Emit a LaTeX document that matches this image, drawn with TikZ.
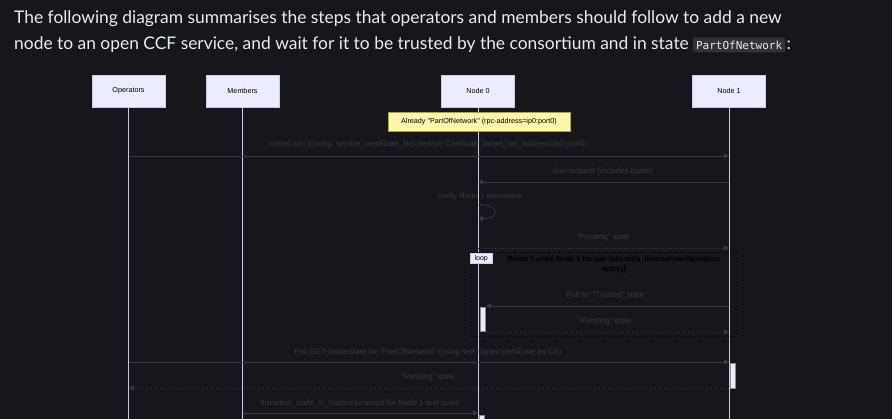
\documentclass[tikz,border=0pt]{standalone}
\usepackage{fontspec}
\setmainfont{Lato}
\newfontfamily\msgfont{Liberation Sans}
\newfontfamily\codefont{DejaVu Sans Mono}
\usetikzlibrary{arrows.meta}
\definecolor{bg}{HTML}{15171A}
\definecolor{hdr}{HTML}{E6EDF3}
\definecolor{actor}{HTML}{ECECFF}
\definecolor{actorb}{HTML}{9370DB}
\definecolor{life}{HTML}{C8C8E6}
\definecolor{msg}{HTML}{3A3A3A}
\definecolor{notef}{HTML}{FFF5AD}
\definecolor{noteb}{HTML}{AAAA33}
\tikzset{
 actorbox/.style={draw=actorb!40,fill=actor,minimum width=73pt,minimum height=32pt,font=\msgfont\fontsize{7.2}{8}\selectfont,text=black,inner sep=0pt},
 lifeline/.style={draw=life,line width=0.8pt},
 msgline/.style={draw=msg,line width=0.8pt,-{Triangle[length=5pt,width=5pt]}},
 retline/.style={msgline,dotted},
 lbl/.style={font=\msgfont\fontsize{7.8}{9}\selectfont,text=msg,inner sep=0pt},
 actbar/.style={draw=msg!60,fill=actor,line width=0.6pt},
 hdrtext/.style={anchor=west,text=hdr,font=\fontsize{17.4}{20}\selectfont,inner sep=0pt}
}
\begin{document}
\begin{tikzpicture}[x=1pt,y=-1pt]
\fill[bg] (0,0) rectangle (892,419);
\useasboundingbox (0,0) rectangle (892,419);
\node[hdrtext] (h1) at (14,19) {The following diagram summarises the steps that operators and members should follow to add a new};
\node[hdrtext] (h2) at (14,45) {node to an open CCF service, and wait for it to be trusted by the consortium and in state};
\node[anchor=west,fill=white!12!bg,text=hdr,rounded corners=2pt,font=\codefont\fontsize{11}{12}\selectfont,inner sep=3pt] (code) at (h2.east) [xshift=4pt] {PartOfNetwork};
\node[hdrtext] (colon) at (code.east) [xshift=1pt] {:};
% actors
\node[actorbox] (op) at (128.5,91) {Operators};
\node[actorbox] (mem) at (242.5,91) {Members};
\node[actorbox] (n0) at (478,91) {Node 0};
\node[actorbox] (n1) at (729,91) {Node 1};
\coordinate (opE) at (128.5,419); \coordinate (memE) at (242.5,419);
\coordinate (n0E) at (478,419); \coordinate (n1E) at (729,419);
\draw[lifeline] (op.south) -- (opE);
\draw[lifeline] (mem.south) -- (memE);
\draw[lifeline] (n0.south) -- (n0E);
\draw[lifeline] (n1.south) -- (n1E);
% note
\node[draw=noteb,fill=notef,text=black,minimum width=182pt,minimum height=19pt,inner sep=0pt,font=\msgfont\fontsize{7.2}{8}\selectfont] (note) at (479,121.5) {Already "PartOfNetwork" (rpc-address=ip0:port0)};
% messages
\coordinate (a1) at (128.5,156); \coordinate (b1) at (729,156);
\draw[msgline] (a1) -- (b1);
\node[lbl] (l1) at (428,144) {cchost join (config: service\_certificate\_file=Service Certificate target\_rpc\_address=ip0:port0)};
\coordinate (a2) at (729,182); \coordinate (b2) at (478,182);
\draw[msgline] (a2) -- (b2);
\node[lbl] (l2) at (603,171) {Join request (includes quote)};
\node[lbl] (l3) at (480,196) {Verify Node 1 attestation};
\coordinate (s1) at (478,205); \coordinate (s2) at (478,218);
\draw[msgline] (s1) .. controls (500,203) and (500,220) .. (s2);
\coordinate (a4) at (478,248); \coordinate (b4) at (729,248);
\draw[retline] (a4) -- (b4);
\node[lbl] (l4) at (603,237) {"Pending" state};
% loop
\draw[draw=msg!130,dotted,line width=1pt] (470,253) rectangle (737,337);
\node[fill=actor,draw=actorb!40,anchor=north west,inner sep=1.5pt,font=\msgfont\fontsize{7}{8}\selectfont,text=black,minimum width=22pt,minimum height=10pt] (looptag) at (470,253) {loop};
\node[lbl,text=black,align=center,font=\msgfont\bfseries\fontsize{7.4}{10}\selectfont] (guard) at (614,264.5) {[Node 1 polls Node 0 (as per join.retry\_timeout configuration\\entry)]};
\node[actbar,minimum width=5pt,minimum height=24pt,inner sep=0pt] (act1) at (482.5,319) {};
\coordinate (a5) at (729,306); \coordinate (b5) at (486,306);
\draw[msgline] (a5) -- (b5);
\node[lbl] (l5) at (605,295) {Poll for "Trusted" state};
\coordinate (a6) at (486,332); \coordinate (b6) at (729,332);
\draw[retline] (a6) -- (b6);
\node[lbl] (l6) at (605,321) {"Pending" state};
% later
\node[actbar,minimum width=5pt,minimum height=25pt,inner sep=0pt] (act2) at (732.5,375.5) {};
\coordinate (a7) at (128.5,362); \coordinate (b7) at (729,362);
\draw[msgline] (a7) -- (b7);
\node[lbl] (l7) at (428,352) {Poll GET /node/state for "PartOfNetwork" (using self-signed certificate as CA)};
\coordinate (a8) at (729,388); \coordinate (b8) at (128.5,388);
\draw[retline] (a8) -- (b8);
\node[lbl] (l8) at (428,377) {"Pending" state};
\coordinate (a9) at (242.5,413); \coordinate (b9) at (478,413);
\draw[msgline] (a9) -- (b9);
\node[lbl] (l9) at (360,403) {transition\_node\_to\_trusted proposal for Node 1 and votes};
\node[actbar,minimum width=5pt,minimum height=10pt,inner sep=0pt,anchor=north] (act3) at (481.5,415) {};
\end{tikzpicture}
\end{document}
